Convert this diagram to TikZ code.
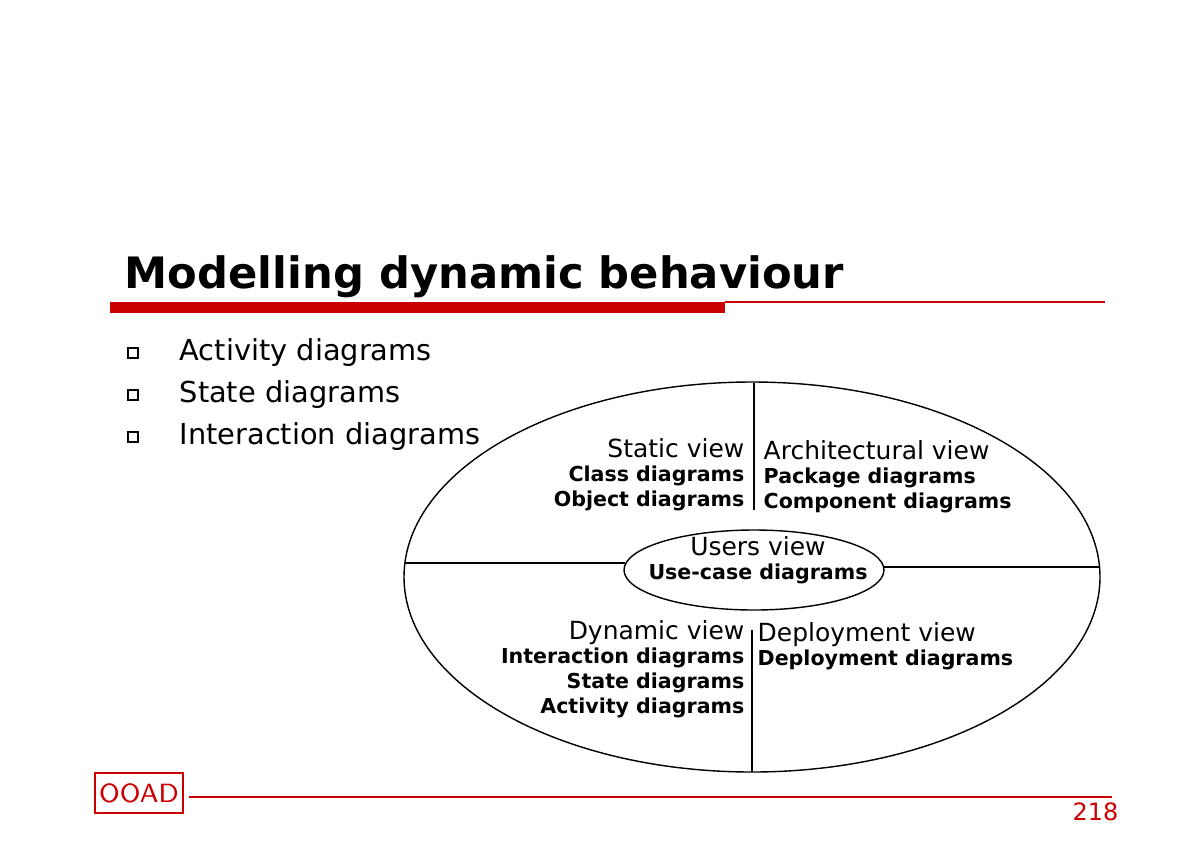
\documentclass[tikz,border=0pt]{standalone}
\usepackage{fontspec}
\setmainfont{DejaVu Sans}
\begin{document}
\begin{tikzpicture}[x=0.01cm,y=-0.01cm,
 lab/.style={font=\fontsize{7.1}{8}\selectfont,inner sep=0pt},
 blab/.style={font=\fontsize{5.85}{7.2}\selectfont\bfseries,inner sep=0pt,align=#1},
 bul/.style={font=\fontsize{8.2}{9}\selectfont,anchor=base west,inner sep=0pt},
 sq/.style={draw,line width=0.4pt,minimum size=0.1cm,inner sep=0pt},
 ln/.style={line width=0.4pt}]
\definecolor{ored}{RGB}{204,0,0}
\useasboundingbox (0,0) rectangle (1200,848);
\node[anchor=base west,inner sep=0pt,font=\fontsize{12.3}{13}\selectfont\bfseries] (title) at (124,288) {Modelling dynamic behaviour};
\fill[ored] (110,302) rectangle (725,313);
\draw[ored,line width=0.8pt] (725,302) -- (1105,302);
\foreach \y/\t [count=\i] in {360/Activity diagrams,402/State diagrams,444/Interaction diagrams}{
 \node[sq] (s\i) at (133,\y-7) {};
 \node[bul] (b\i) at (179,\y) {\t};
}
\draw[ln] (752,577) ellipse [x radius=348, y radius=195];
\draw[ln] (754,570) ellipse [x radius=130, y radius=40];
\draw[ln] (754,383) -- (754,510);
\draw[ln] (752,630) -- (752,772);
\draw[ln] (404,563) -- (625,563);
\draw[ln] (883,567) -- (1100,567);
\node[lab,anchor=base east] (sv) at (745,457) {Static view};
\node[blab=right,anchor=north east] (svd) at (745,465) {Class diagrams\\Object diagrams};
\node[lab,anchor=base west] (av) at (763,459) {Architectural view};
\node[blab=left,anchor=north west] (avd) at (763,467) {Package diagrams\\Component diagrams};
\node[lab,anchor=base] (uv) at (758,555) {Users view};
\node[blab=center,anchor=north] (uvd) at (758,563) {Use-case diagrams};
\node[lab,anchor=base east] (dv) at (745,639) {Dynamic view};
\node[blab=right,anchor=north east] (dvd) at (745,647) {Interaction diagrams\\State diagrams\\Activity diagrams};
\node[lab,anchor=base west] (pv) at (757,641) {Deployment view};
\node[blab=left,anchor=north west] (pvd) at (757,649) {Deployment diagrams};
\node[draw=ored,line width=0.8pt,text=ored,font=\fontsize{7.5}{9}\selectfont\sffamily,inner sep=0pt,minimum width=0.88cm,minimum height=0.4cm] (ooad) at (139,793) {OOAD};
\draw[ored,line width=0.5pt] (ooad.east)++(5,4) -- (1112,797);
\node[text=ored,anchor=base east,inner sep=0pt,font=\fontsize{6.8}{8}\selectfont] (pg) at (1119,820) {218};
\end{tikzpicture}
\end{document}
